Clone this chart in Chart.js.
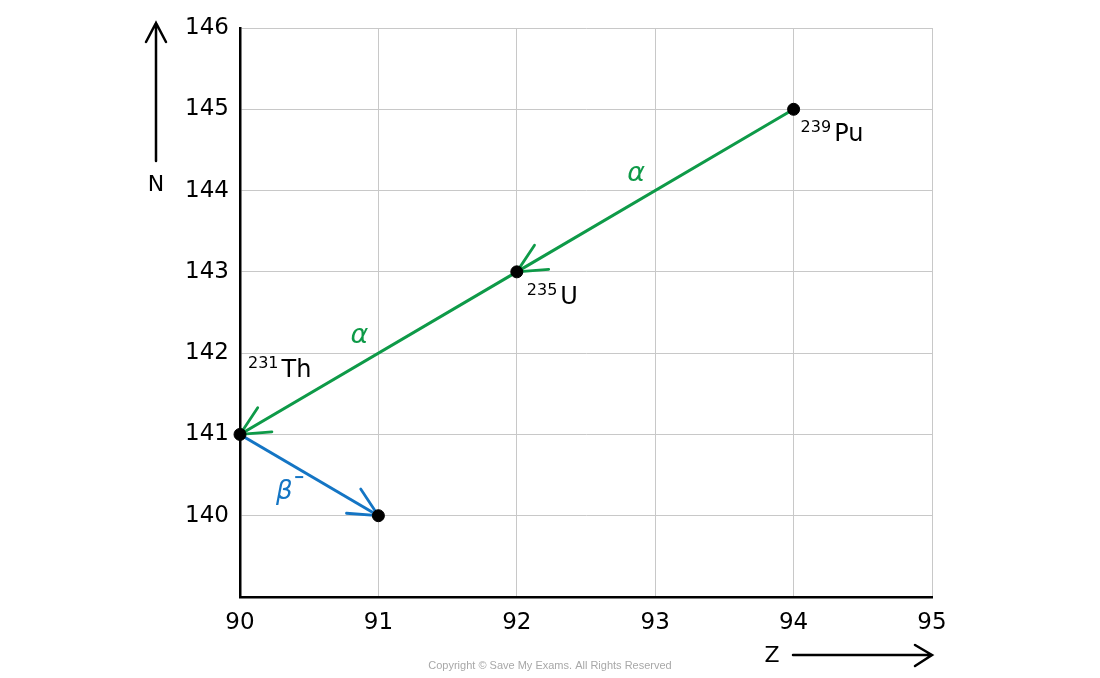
<!DOCTYPE html>
<html>
<head>
<meta charset="utf-8">
<script src="https://cdn.jsdelivr.net/npm/chart.js@4"></script>
<style>
	html, body { margin: 0; padding: 0; background: #fff; }
	#wrap { width: 1100px; height: 678px; position: relative; }
</style>
</head>
<body>
<div id="wrap"><canvas id="decayChart"></canvas></div>
<script>
// decay chain: Pu-239 -> U-235 -> Th-231 -> Pa-231
const protonNumbers = [94, 92, 90, 91];
const neutronNumbers = [145, 143, 141, 140];
const massNumbers = ['239', '235', '231', ''];
const symbols = ['Pu', 'U', 'Th', ''];
const alphaChain = [0, 1, 2]; // indexes into the arrays above
const betaChain = [2, 3];
const zTicks = [90, 91, 92, 93, 94, 95];
const nTicks = [140, 141, 142, 143, 144, 145, 146];

const GREEN = '#0e9a48';
const BLUE = '#1475c4';
const FONT = "'DejaVu Sans', sans-serif";

function pts(idx) {
	return idx.map(i => ({ x: protonNumbers[i], y: neutronNumbers[i] }));
}

function arrowHead(ctx, from, to, color) {
	const ang = Math.atan2(from.y - to.y, from.x - to.x);
	const len = 32, spread = 26 * Math.PI / 180;
	ctx.save();
	ctx.strokeStyle = color;
	ctx.lineWidth = 2.8;
	ctx.lineCap = 'round';
	ctx.lineJoin = 'round';
	ctx.beginPath();
	ctx.moveTo(to.x + len * Math.cos(ang - spread), to.y + len * Math.sin(ang - spread));
	ctx.lineTo(to.x, to.y);
	ctx.lineTo(to.x + len * Math.cos(ang + spread), to.y + len * Math.sin(ang + spread));
	ctx.stroke();
	ctx.restore();
}

const extras = {
	id: 'extras',
	beforeDatasetsDraw(chart) {
		// arrowheads go under the dots
		const ctx = chart.ctx;
		const xs = chart.scales.x, ys = chart.scales.y;
		const px = i => ({ x: xs.getPixelForValue(protonNumbers[i]), y: ys.getPixelForValue(neutronNumbers[i]) });
		for (let k = 1; k < alphaChain.length; k++) {
			arrowHead(ctx, px(alphaChain[k - 1]), px(alphaChain[k]), GREEN);
		}
		arrowHead(ctx, px(betaChain[0]), px(betaChain[1]), BLUE);
	},
	afterDatasetsDraw(chart) {
		const ctx = chart.ctx;
		const xs = chart.scales.x, ys = chart.scales.y;
		const px = i => ({ x: xs.getPixelForValue(protonNumbers[i]), y: ys.getPixelForValue(neutronNumbers[i]) });

		// nuclide labels
		const offs = [[7, 32], [10, 32], [8, -57], [0, 0]];
		ctx.save();
		ctx.fillStyle = '#000';
		ctx.textBaseline = 'alphabetic';
		ctx.textAlign = 'left';
		massNumbers.forEach((m, i) => {
			if (!m) return;
			const p = px(i);
			const x = p.x + offs[i][0], y = p.y + offs[i][1];
			ctx.font = '16px ' + FONT;
			ctx.fillText(m, x, y - 9);
			const w = ctx.measureText(m).width;
			ctx.font = '24px ' + FONT;
			ctx.fillText(symbols[i], x + w + 3, y);
		});

		// decay labels at segment midpoints
		ctx.textAlign = 'center';
		ctx.textBaseline = 'middle';
		ctx.font = 'italic 27px ' + FONT;
		ctx.fillStyle = GREEN;
		for (let k = 1; k < alphaChain.length; k++) {
			const a = px(alphaChain[k - 1]), b = px(alphaChain[k]);
			ctx.fillText('α', (a.x + b.x) / 2 - 19, (a.y + b.y) / 2 - 17);
		}
		const a = px(betaChain[0]), b = px(betaChain[1]);
		const mx = (a.x + b.x) / 2, my = (a.y + b.y) / 2;
		ctx.fillStyle = BLUE;
		ctx.strokeStyle = BLUE;
		ctx.font = 'italic 26px ' + FONT;
		ctx.fillText('β', mx - 25, my + 17);
		ctx.lineWidth = 2;
		ctx.beginPath();
		ctx.moveTo(mx - 14, my + 2); ctx.lineTo(mx - 6, my + 2);
		ctx.stroke();

		// axis titles with arrows
		ctx.strokeStyle = '#000';
		ctx.fillStyle = '#000';
		ctx.lineWidth = 2.5;
		ctx.lineCap = 'round';
		ctx.beginPath();
		ctx.moveTo(156, 161); ctx.lineTo(156, 23);
		ctx.moveTo(146, 42); ctx.lineTo(156, 23); ctx.lineTo(166, 42);
		ctx.moveTo(793, 655); ctx.lineTo(931, 655);
		ctx.moveTo(915, 645); ctx.lineTo(932, 655); ctx.lineTo(915, 666);
		ctx.stroke();
		ctx.font = '22px ' + FONT;
		ctx.fillText('N', 156, 185);
		ctx.fillText('Z', 772, 656);

		// copyright
		ctx.font = "11px 'Liberation Sans', sans-serif";
		ctx.fillStyle = '#a8a8a8';
		ctx.fillText('Copyright © Save My Exams. All Rights Reserved', 550, 666);
		ctx.restore();
	}
};

const ctx = document.getElementById('decayChart').getContext('2d');
new Chart(ctx, {
	type: 'scatter',
	data: {
		datasets: [{
			label: 'nuclides',
			data: pts([0, 1, 2, 3]),
			pointRadius: 6,
			backgroundColor: '#000',
			borderColor: '#000',
			clip: false
		}, {
			label: 'alpha',
			data: pts(alphaChain),
			showLine: true,
			borderColor: GREEN,
			borderWidth: 3,
			pointRadius: 0
		}, {
			label: 'beta',
			data: pts(betaChain),
			showLine: true,
			borderColor: BLUE,
			borderWidth: 3,
			pointRadius: 0
		}]
	},
	plugins: [extras],
	options: {
		responsive: true,
		maintainAspectRatio: false,
		animation: false,
		layout: { padding: { left: 0, top: 28, right: 168, bottom: 0 } },
		plugins: { legend: { display: false }, tooltip: { enabled: false } },
		scales: {
			x: {
				type: 'linear',
				min: 90, max: 95,
				afterBuildTicks: s => { s.ticks = zTicks.map(v => ({ value: v })); },
				afterFit: s => { s.height = 81; },
				grid: { color: '#c8c8c8', lineWidth: 1, drawTicks: false },
				border: { color: '#000', width: 2.5 },
				ticks: { color: '#000', padding: 12, font: { family: FONT, size: 23 } }
			},
			y: {
				type: 'linear',
				min: 139, max: 146,
				afterBuildTicks: s => { s.ticks = [139].concat(nTicks).map(v => ({ value: v })); },
				afterFit: s => { s.width = 240; },
				grid: { color: '#c8c8c8', lineWidth: 1, drawTicks: false },
				border: { color: '#000', width: 2.5 },
				ticks: {
					color: '#000', padding: 11, font: { family: FONT, size: 23 },
					callback: v => (v === 139 ? '' : v)
				}
			}
		}
	}
});
</script>
</body>
</html>
